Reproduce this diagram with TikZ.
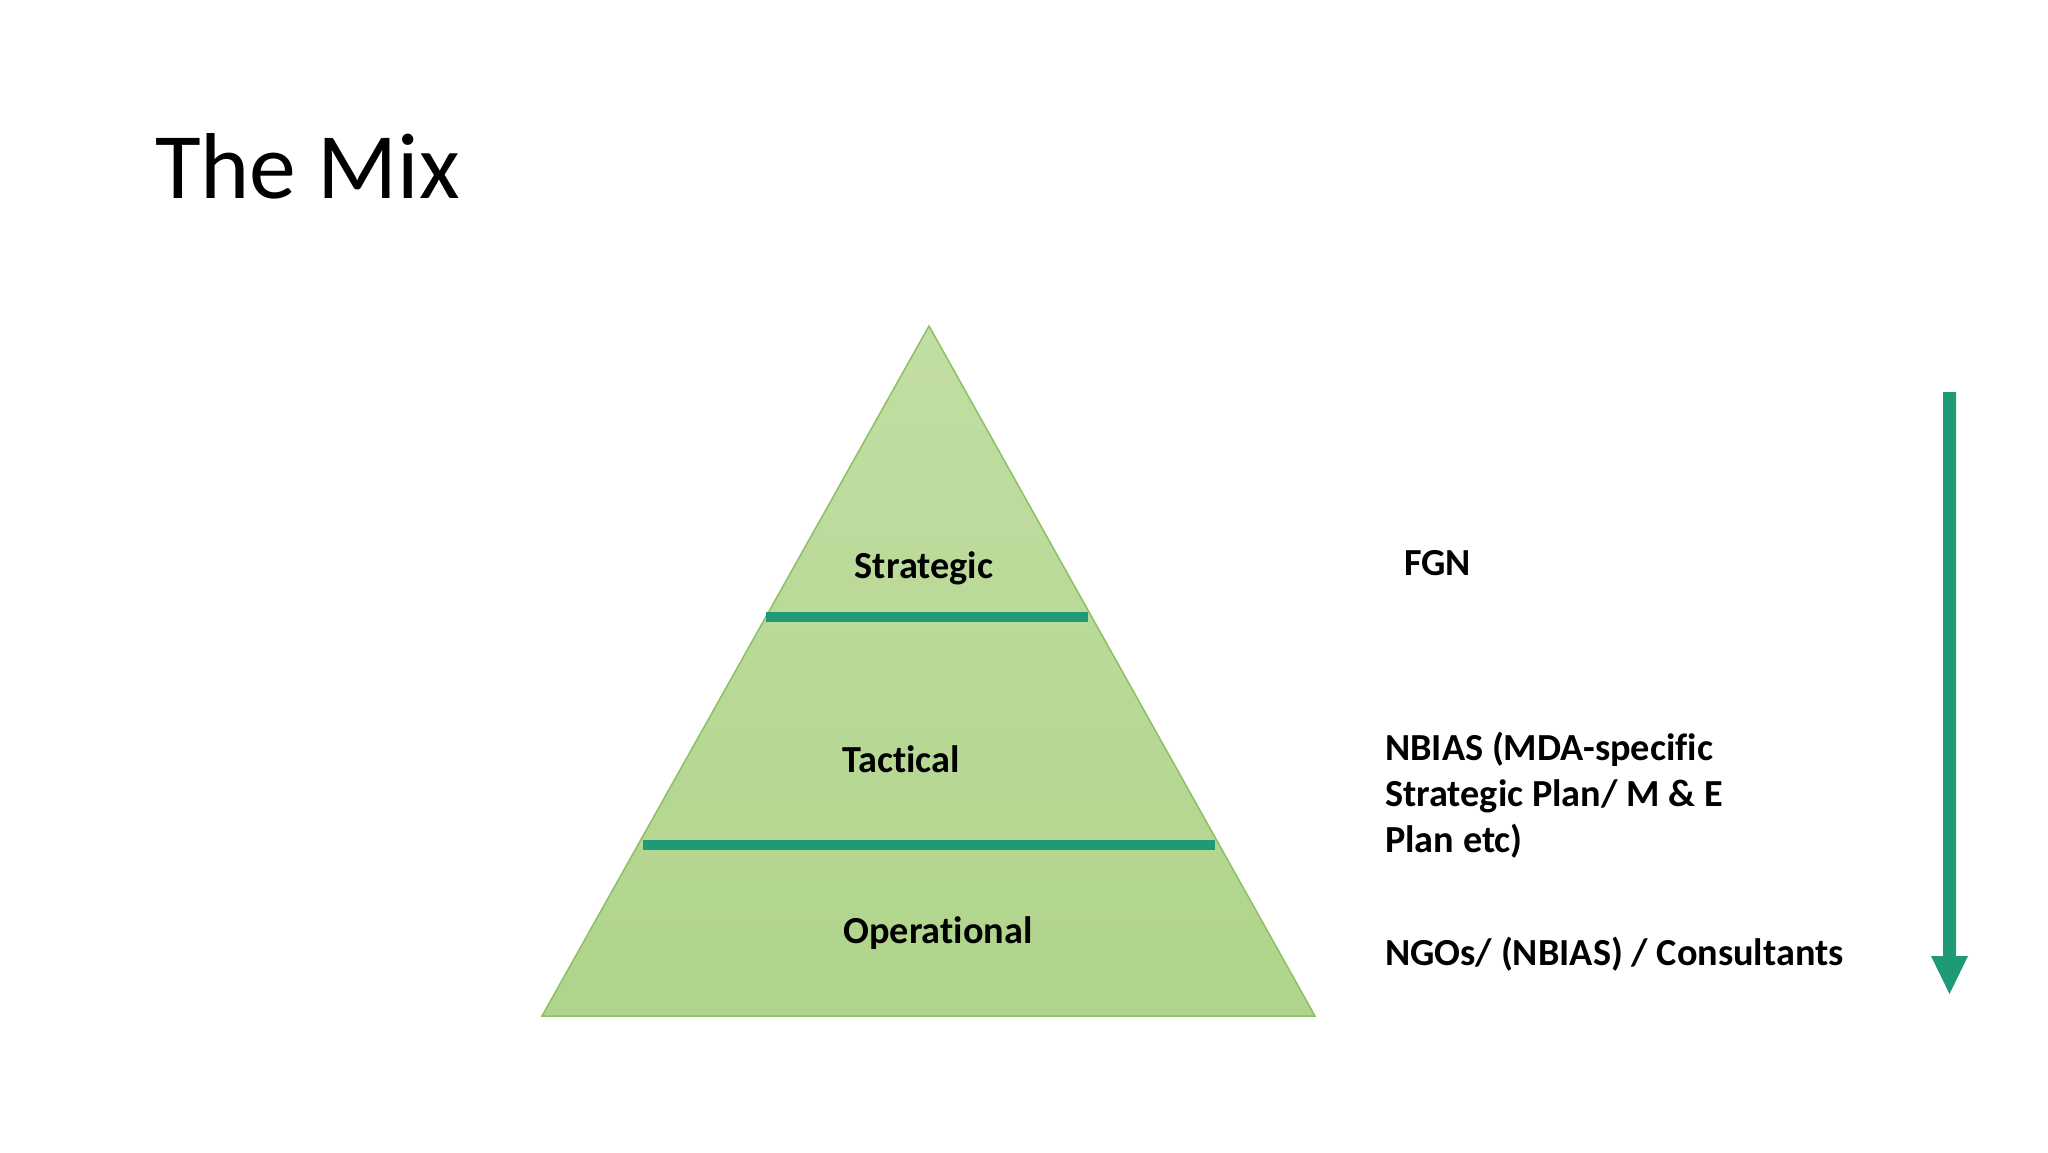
\documentclass[tikz,border=0pt]{standalone}
\usepackage{fontspec}
\setmainfont{Carlito}[Ligatures=NoCommon]
\definecolor{trigtop}{HTML}{C2DEA3}
\definecolor{trigbot}{HTML}{B0D48B}
\definecolor{trigedge}{HTML}{8CC063}
\definecolor{tealbar}{HTML}{1E9B76}
\tikzset{
  lvl/.style={anchor=base, inner sep=0pt, font=\fontsize{38.4}{46}\selectfont\bfseries},
  side/.style={anchor=base west, inner sep=0pt, align=left, font=\fontsize{38.4}{46}\selectfont\bfseries},
  bar/.style={fill=tealbar}
}
\begin{document}
\begin{tikzpicture}[x=1bp,y=-1bp]
\useasboundingbox[fill=white] (0,0) rectangle (2048,1152);
\node[anchor=base west, inner sep=0pt, font=\fontsize{94}{113}\selectfont] (title) at (155,198) {The Mix};
% pyramid
\path[draw=trigedge, line width=1.5bp, top color=trigtop, bottom color=trigbot]
  (929,326) -- (1315,1016) -- (542,1016) -- cycle;
\fill[bar] (766,612) rectangle (1088,622);
\fill[bar] (643,840) rectangle (1215,850);
\node[lvl] (strat) at (924,578) {Strategic};
\node[lvl] (tact) at (901,772) {Tactical};
\node[lvl] (oper) at (938,943) {Operational};
% right labels
\node[side] (fgn) at (1404,575) {FGN};
\node[side] (nbias) at (1385,852) {NBIAS (MDA-specific\\Strategic Plan/ M \& E\\Plan etc)};
\node[side] (ngos) at (1385,965) {NGOs/ (NBIAS) / Consultants};
% arrow
\fill[bar] (1943,392) -- (1956,392) -- (1956,956) -- (1968,956) -- (1949.5,994) -- (1931,956) -- (1943,956) -- cycle;
\end{tikzpicture}
\end{document}
